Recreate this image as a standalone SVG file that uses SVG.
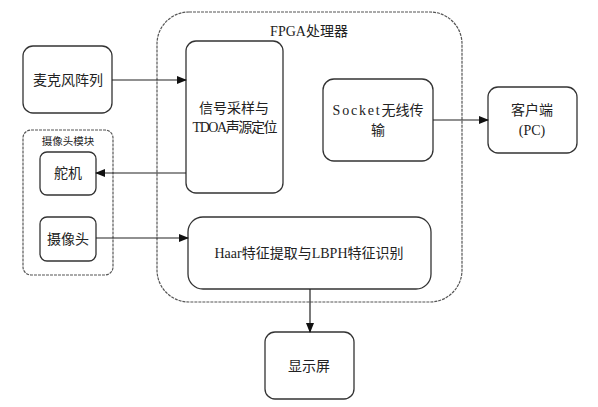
<svg xmlns="http://www.w3.org/2000/svg" width="598" height="407" viewBox="0 0 598 407">
<style>
.box{fill:#fff;stroke:#333;stroke-width:1.3}
.dash{fill:none;stroke:#555;stroke-width:1.2;stroke-dasharray:3,1}
.t{font-family:"Liberation Serif","Noto Sans CJK SC",serif;font-size:14px;fill:#222;text-anchor:middle}
.s{font-size:10.5px}
.c{fill:none;stroke:#222;stroke-width:1.2}
</style>
<defs>
<marker id="ah" markerWidth="10" markerHeight="8" refX="9" refY="4" orient="auto" markerUnits="userSpaceOnUse">
<path d="M0,0 L10,4 L0,8 Z" fill="#111"/>
</marker>
</defs>
<rect width="598" height="407" fill="#fff"/>
<g id="fpga">
<rect class="dash" x="157" y="12" width="305" height="290" rx="32"/>
<text class="t" x="309" y="36" font-size="13">FPGA处理器</text>
</g>
<g id="cammodule">
<rect class="dash" x="23" y="130" width="90" height="145" rx="8"/>
<text class="t s" x="68" y="145">摄像头模块</text>
</g>
<g id="mic">
<rect class="box" x="23" y="46" width="89" height="67" rx="10"/>
<text class="t" x="68" y="85">麦克风阵列</text>
</g>
<g id="signal">
<rect class="box" x="186" y="41" width="97" height="152" rx="10"/>
<text class="t" x="234" y="113">信号采样与</text>
<text class="t" x="235" y="132" textLength="85" lengthAdjust="spacing">TDOA声源定位</text>
</g>
<g id="servo">
<rect class="box" x="40" y="152" width="56" height="43" rx="7"/>
<text class="t" x="68" y="178">舵机</text>
</g>
<g id="camera">
<rect class="box" x="40" y="217" width="56" height="44" rx="7"/>
<text class="t" x="68" y="244">摄像头</text>
</g>
<g id="socket">
<rect class="box" x="323" y="79" width="110" height="82" rx="11"/>
<text class="t" x="378" y="115"><tspan letter-spacing="1.8">Socket</tspan>无线传</text>
<text class="t" x="378" y="135">输</text>
</g>
<g id="client">
<rect class="box" x="488" y="87" width="89" height="66" rx="10"/>
<text class="t" x="532" y="115">客户端</text>
<text class="t" x="532" y="135">(PC)</text>
</g>
<g id="haar">
<rect class="box" x="188" y="217" width="243" height="72" rx="15"/>
<text class="t" x="309" y="258" textLength="189" lengthAdjust="spacing">Haar特征提取与LBPH特征识别</text>
</g>
<g id="display">
<rect class="box" x="265" y="332" width="89" height="67" rx="10"/>
<text class="t" x="309" y="371">显示屏</text>
</g>
<g id="connectors">
<line class="c" x1="112" y1="80" x2="186" y2="80" marker-end="url(#ah)"/>
<line class="c" x1="186" y1="173" x2="96" y2="173" marker-end="url(#ah)"/>
<line class="c" x1="96" y1="238" x2="188" y2="238" marker-end="url(#ah)"/>
<line class="c" x1="433" y1="120" x2="488" y2="120" marker-end="url(#ah)"/>
<line class="c" x1="310" y1="289" x2="310" y2="332" marker-end="url(#ah)"/>
</g>
</svg>
